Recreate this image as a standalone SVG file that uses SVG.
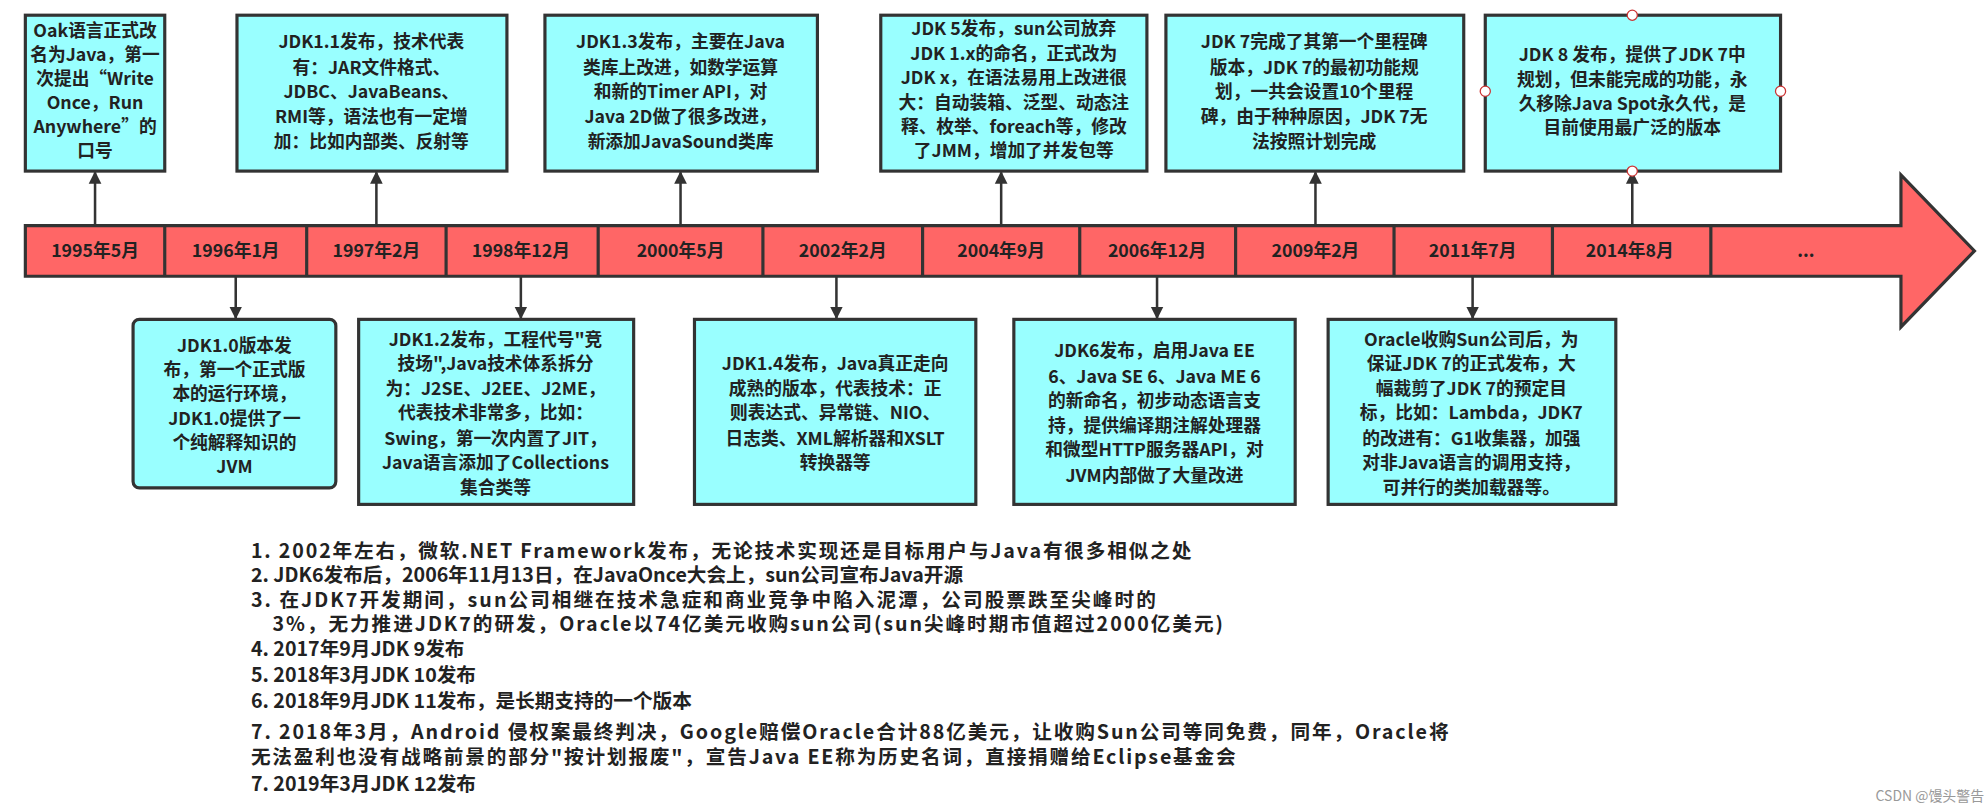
<svg xmlns="http://www.w3.org/2000/svg" width="1987" height="812" viewBox="0 0 1987 812">
<style>
.box{fill:#99ffff;stroke:#333;stroke-width:2.5}
.cell{fill:#ff6666;stroke:#333;stroke-width:2.5}
.t{font-family:"Noto Sans CJK SC","Microsoft YaHei",sans-serif;font-weight:bold;font-size:14px;fill:#222;text-anchor:middle}
.n{font-family:"Noto Sans CJK SC",sans-serif;font-weight:bold;font-size:15.5px;fill:#222}
.c{stroke:#333;stroke-width:2;fill:none;marker-end:url(#ah2)}
.h{fill:#fff;stroke:#c33;stroke-width:1}
</style>
<defs>
<marker id="ah2" viewBox="0 0 10 10" refX="9" refY="5" markerWidth="10" markerHeight="14" orient="auto" markerUnits="userSpaceOnUse"><path d="M0,0L10,5L0,10z" fill="#333"/></marker></defs>
<rect width="1987" height="812" fill="#fff"/>
<g transform="scale(1.2673)">
<g id="timeline">
<path d="M20,178H1500V138L1558,198L1500,258V218H20Z" class="cell"/>
<path d="M130,178V218M242,178V218M352,178V218M472,178V218M602,178V218M728,178V218M852,178V218M975,178V218M1100,178V218M1225,178V218M1350,178V218" stroke="#333" stroke-width="2.5"/>
<g class="t">
<text x="75" y="203">1995年5月</text><text x="186" y="203">1996年1月</text><text x="297" y="203">1997年2月</text><text x="411" y="203">1998年12月</text><text x="537" y="203">2000年5月</text><text x="665" y="203">2002年2月</text><text x="790" y="203">2004年9月</text><text x="913" y="203">2006年12月</text><text x="1038" y="203">2009年2月</text><text x="1162" y="203">2011年7月</text><text x="1286" y="203">2014年8月</text><text x="1425" y="203">...</text>
</g></g>
<g id="connectors">
<path class="c" d="M75,178V136"/>
<path class="c" d="M297,178V136"/>
<path class="c" d="M537,178V136"/>
<path class="c" d="M790,178V136"/>
<path class="c" d="M1038,178V136"/>
<path class="c" d="M1288,178V136"/>
<path class="c" d="M186,218V251"/>
<path class="c" d="M411,218V251"/>
<path class="c" d="M660,218V251"/>
<path class="c" d="M913,218V251"/>
<path class="c" d="M1162,218V251"/>
</g>
<g id="n1"><rect class="box" x="20" y="12" width="110" height="123"/>
<text class="t"><tspan x="75" y="29">Oak语言正式改</tspan><tspan x="75" y="48">名为Java，第一</tspan><tspan x="75" y="67">次提出“Write</tspan><tspan x="75" y="86">Once，Run</tspan><tspan x="75" y="105">Anywhere”的</tspan><tspan x="75" y="124">口号</tspan></text></g>
<g id="n2"><rect class="box" x="187" y="12" width="213" height="123"/>
<text class="t"><tspan x="293" y="38">JDK1.1发布，技术代表</tspan><tspan x="293" y="58">有：JAR文件格式、</tspan><tspan x="293" y="77">JDBC、JavaBeans、</tspan><tspan x="293" y="97">RMI等，语法也有一定增</tspan><tspan x="293" y="117">加：比如内部类、反射等</tspan></text></g>
<g id="n3"><rect class="box" x="430" y="12" width="215" height="123"/>
<text class="t"><tspan x="537" y="38">JDK1.3发布，主要在Java</tspan><tspan x="537" y="58">类库上改进，如数学运算</tspan><tspan x="537" y="77">和新的Timer API，对</tspan><tspan x="537" y="97">Java 2D做了很多改进，</tspan><tspan x="537" y="117">新添加JavaSound类库</tspan></text></g>
<g id="n4"><rect class="box" x="695" y="12" width="210" height="123"/>
<text class="t"><tspan x="800" y="28">JDK 5发布，sun公司放弃</tspan><tspan x="800" y="47">JDK 1.x的命名，正式改为</tspan><tspan x="800" y="66">JDK x，在语法易用上改进很</tspan><tspan x="800" y="86">大：自动装箱、泛型、动态注</tspan><tspan x="800" y="105">释、枚举、foreach等，修改</tspan><tspan x="800" y="124">了JMM，增加了并发包等</tspan></text></g>
<g id="n5"><rect class="box" x="920" y="12" width="235" height="123"/>
<text class="t"><tspan x="1037" y="38">JDK 7完成了其第一个里程碑</tspan><tspan x="1037" y="58">版本，JDK 7的最初功能规</tspan><tspan x="1037" y="77">划，一共会设置10个里程</tspan><tspan x="1037" y="97">碑，由于种种原因，JDK 7无</tspan><tspan x="1037" y="117">法按照计划完成</tspan></text></g>
<g id="n6"><rect class="box" x="1172" y="12" width="233" height="123"/>
<text class="t"><tspan x="1288" y="48">JDK 8 发布，提供了JDK 7中</tspan><tspan x="1288" y="68">规划，但未能完成的功能，永</tspan><tspan x="1288" y="87">久移除Java Spot永久代，是</tspan><tspan x="1288" y="106">目前使用最广泛的版本</tspan></text>
<circle class="h" cx="1172" cy="72" r="4"/><circle class="h" cx="1405" cy="72" r="4"/><circle class="h" cx="1288" cy="12" r="4"/><circle class="h" cx="1288" cy="135" r="4"/></g>
<g id="n7"><rect class="box" x="105" y="252" width="160" height="133" rx="5"/>
<text class="t"><tspan x="185" y="278">JDK1.0版本发</tspan><tspan x="185" y="297">布，第一个正式版</tspan><tspan x="185" y="316">本的运行环境，</tspan><tspan x="185" y="335">JDK1.0提供了一</tspan><tspan x="185" y="354">个纯解释知识的</tspan><tspan x="185" y="373">JVM</tspan></text></g>
<g id="n8"><rect class="box" x="283" y="252" width="217" height="146"/>
<text class="t"><tspan x="391" y="273">JDK1.2发布，工程代号"竞</tspan><tspan x="391" y="292">技场",Java技术体系拆分</tspan><tspan x="391" y="312">为：J2SE、J2EE、J2ME，</tspan><tspan x="391" y="331">代表技术非常多，比如：</tspan><tspan x="391" y="351">Swing，第一次内置了JIT，</tspan><tspan x="391" y="370">Java语言添加了Collections</tspan><tspan x="391" y="390">集合类等</tspan></text></g>
<g id="n9"><rect class="box" x="548" y="252" width="222" height="146"/>
<text class="t"><tspan x="659" y="292">JDK1.4发布，Java真正走向</tspan><tspan x="659" y="312">成熟的版本，代表技术：正</tspan><tspan x="659" y="331">则表达式、异常链、NIO、</tspan><tspan x="659" y="351">日志类、XML解析器和XSLT</tspan><tspan x="659" y="370">转换器等</tspan></text></g>
<g id="n10"><rect class="box" x="800" y="252" width="222" height="146"/>
<text class="t"><tspan x="911" y="282">JDK6发布，启用Java EE</tspan><tspan x="911" y="302">6、Java SE 6、Java ME 6</tspan><tspan x="911" y="321">的新命名，初步动态语言支</tspan><tspan x="911" y="341">持，提供编译期注解处理器</tspan><tspan x="911" y="360">和微型HTTP服务器API，对</tspan><tspan x="911" y="380">JVM内部做了大量改进</tspan></text></g>
<g id="n11"><rect class="box" x="1048" y="252" width="227" height="146"/>
<text class="t"><tspan x="1161" y="273">Oracle收购Sun公司后，为</tspan><tspan x="1161" y="292">保证JDK 7的正式发布，大</tspan><tspan x="1161" y="312">幅裁剪了JDK 7的预定目</tspan><tspan x="1161" y="331">标，比如：Lambda，JDK7</tspan><tspan x="1161" y="351">的改进有：G1收集器，加强</tspan><tspan x="1161" y="370">对非Java语言的调用支持，</tspan><tspan x="1161" y="390">可并行的类加载器等。</tspan></text></g>
<g id="notes" class="n">
<text x="198" y="440" textLength="742">1. 2002年左右，微软.NET Framework发布，无论技术实现还是目标用户与Java有很多相似之处</text>
<text x="198" y="459">2. JDK6发布后，2006年11月13日，在JavaOnce大会上，sun公司宣布Java开源</text>
<text x="198" y="479" textLength="714">3. 在JDK7开发期间，sun公司相继在技术急症和商业竞争中陷入泥潭，公司股票跌至尖峰时的</text>
<text x="215" y="498" textLength="750">3%，无力推进JDK7的研发，Oracle以74亿美元收购sun公司(sun尖峰时期市值超过2000亿美元)</text>
<text x="198" y="518">4. 2017年9月JDK 9发布</text>
<text x="198" y="538">5. 2018年3月JDK 10发布</text>
<text x="198" y="559">6. 2018年9月JDK 11发布，是长期支持的一个版本</text>
<text x="198" y="583" textLength="945">7. 2018年3月，Android 侵权案最终判决，Google赔偿Oracle合计88亿美元，让收购Sun公司等同免费，同年，Oracle将</text>
<text x="198" y="603" textLength="777">无法盈利也没有战略前景的部分"按计划报废"，宣告Java EE称为历史名词，直接捐赠给Eclipse基金会</text>
<text x="198" y="624">7. 2019年3月JDK 12发布</text>
</g>
<text x="1480" y="632" style="font-family:'Noto Sans CJK SC',sans-serif;font-size:11px;fill:#999">CSDN @馒头警告</text>
</g>
</svg>
